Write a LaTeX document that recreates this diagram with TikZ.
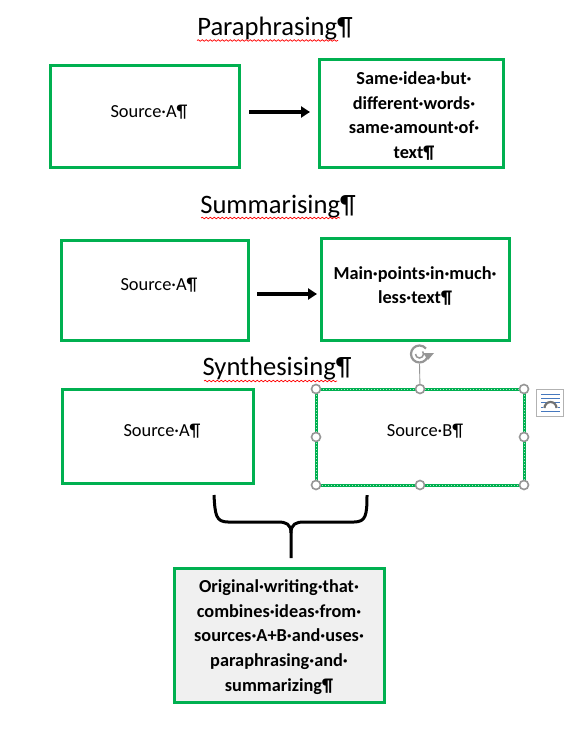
\documentclass[tikz,border=0pt]{standalone}
\usepackage{fontspec}
\setmainfont{Carlito}
\usetikzlibrary{arrows.meta,decorations.pathmorphing}
\definecolor{boxgreen}{RGB}{0,176,80}
\definecolor{handlegray}{RGB}{150,150,150}
\definecolor{iconblue}{RGB}{70,120,190}
\tikzset{
  x=1pt,y=-1pt,
  greenbox/.style={draw=boxgreen,line width=3pt,fill=white,inner sep=0pt,outer sep=0pt,anchor=north west,align=center},
  heading/.style={font=\fontsize{26.6}{30}\selectfont,inner sep=0pt},
  plain/.style={font=\fontsize{18.4}{25}\selectfont},
  strong/.style={font=\fontsize{18.3}{24.8}\selectfont\bfseries},
  flow/.style={line width=3.4pt,-{Triangle[length=9pt,width=11pt]}},
  squiggle/.style={draw=red,line width=0.7pt,decorate,decoration={snake,amplitude=0.8pt,segment length=4pt}},
  handle/.style={circle,draw=handlegray,line width=1.6pt,fill=white,minimum size=9pt,inner sep=0pt},
  bracket/.style={line width=3pt,line join=round}
}
\newcommand{\gbox}[6]{\node[greenbox,#6,minimum width=#4 pt-#2 pt,minimum height=#5 pt-#3 pt] (#1) at (#2,#3) {};}
\begin{document}
\begin{tikzpicture}
\useasboundingbox (0,0) rectangle (570,730);
\fill[white] (0,0) rectangle (570,730);
% headings
\node[heading] (h1) at (275,29) {Paraphrasing¶};
\node[heading] (h2) at (278,207) {Summarising¶};
\node[heading] (h3) at (277,369) {Synthesising¶};
\coordinate (s1a) at (197,40.5); \coordinate (s1b) at (338,40.5);
\coordinate (s2a) at (201,218);  \coordinate (s2b) at (340,218);
\coordinate (s3a) at (204,381);  \coordinate (s3b) at (337,381);
\draw[squiggle] (s1a) -- (s1b);
\draw[squiggle] (s2a) -- (s2b);
\draw[squiggle] (s3a) -- (s3b);
% row 1
\gbox{a1}{50}{66}{239}{168}{}
\gbox{r1}{319}{60}{503}{168}{}
\node[plain] (ta1) at (149,112) {Source·A¶};
\node[strong,align=center] (tr1) at (414,116) {Same·idea·but·\\different·words·\\same·amount·of·\\text¶};
\coordinate (f1) at (249,112); \coordinate (g1) at (310,112);
\draw[flow] (f1) -- (g1);
% row 2
\gbox{a2}{61}{240}{248}{340}{}
\gbox{r2}{321}{238}{509}{340}{}
\node[plain] (ta2) at (159,285) {Source·A¶};
\node[strong,align=center] (tr2) at (415,286) {Main·points·in·much·\\less·text¶};
\coordinate (f2) at (257,294); \coordinate (g2) at (317,294);
\draw[flow] (f2) -- (g2);
% row 3
\gbox{a3}{62}{389}{253}{483}{}
\gbox{b3}{316}{389}{524}{485}{}
\node[plain] (ta3) at (162,431) {Source·A¶};
\node[plain] (tb3) at (425,431) {Source·B¶};
\draw[white!70!boxgreen,line width=0.5pt,dash pattern=on 1pt off 2pt] (b3.north west) rectangle (b3.south east);
% selection handles
\node[handle] (hnw) at (b3.north west) {};
\node[handle] (hn) at (b3.north) {};
\node[handle] (hne) at (b3.north east) {};
\node[handle] (hw) at (b3.west) {};
\node[handle] (he) at (b3.east) {};
\node[handle] (hsw) at (b3.south west) {};
\node[handle] (hs) at (b3.south) {};
\node[handle] (hse) at (b3.south east) {};
\coordinate (rot) at (419.5,354);
\draw[handlegray,line width=0.9pt] (rot) ++(0,10) -- (hn);
\draw[handlegray,line width=2.2pt] (428,354) arc[start angle=0,end angle=320,radius=8.5];
\draw[handlegray,line width=1.5pt] (415.5,354) arc[start angle=180,end angle=-40,radius=4];
\fill[handlegray] (423,353) -- (434,353) -- (428,360) -- cycle;
% layout icon
\node[draw=black!30,fill=white,line width=0.9pt,minimum width=27pt,minimum height=27pt,inner sep=0pt] (icon) at (550,403) {};
\foreach \yy in {394,398,402,407,411}
  \draw[iconblue,line width=0.9pt] (541,\yy) -- (560,\yy);
\fill[white] (543,403.5) rectangle (558,409);
\draw[black!55,line width=2.2pt] (544.5,408) arc[start angle=180,end angle=360,radius=6];
% brace
\coordinate (bl) at (214,495); \coordinate (br) at (367,495); \coordinate (bt) at (291,558);
\draw[bracket] (bl) .. controls (215,515) and (216,522) .. (228,522) -- (278,522) .. controls (286,522) and (291,524) .. (291,533) -- (bt);
\draw[bracket] (br) .. controls (367,515) and (366,522) .. (354,522) -- (304,522) .. controls (296,522) and (291,524) .. (291,533);
% bottom box
\gbox{c}{174}{568}{384}{702}{fill=black!6}
\node[strong,align=center] (tc) at (279,637) {Original·writing·that·\\combines·ideas·from·\\sources·A+B·and·uses·\\paraphrasing·and·\\summarizing¶};
\end{tikzpicture}
\end{document}
